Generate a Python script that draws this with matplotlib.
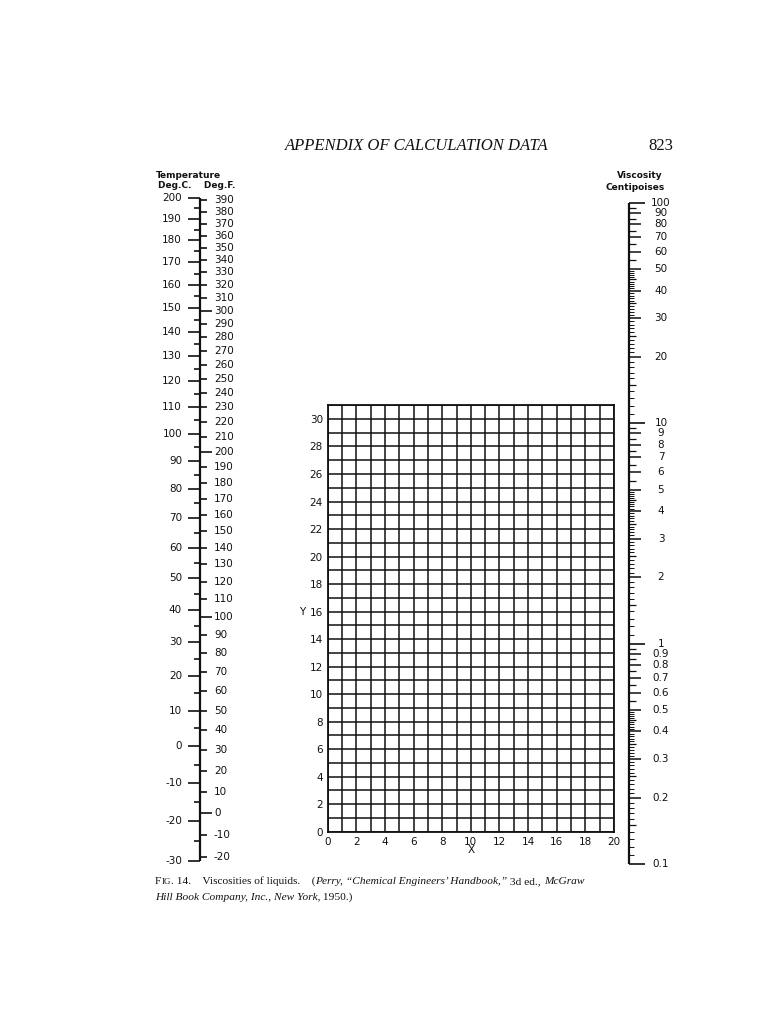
import numpy as np
import matplotlib
matplotlib.use("Agg")
import matplotlib.pyplot as plt

# ---------------- data ----------------
temp_c_major = list(range(-30, 201, 10))          # labelled Deg.C ticks
temp_c_minor = list(range(-25, 200, 10))          # half-step Deg.C ticks
temp_f_ticks = list(range(-20, 391, 10))          # labelled Deg.F ticks
temp_f_long = [0, 100, 200, 300]                  # longer Deg.F ticks
TEMP_OFFSET = 613.0                               # nomograph temperature scale constant

visc_labels = [100, 90, 80, 70, 60, 50, 40, 30, 20, 10, 9, 8, 7, 6, 5, 4, 3, 2,
               1, 0.9, 0.8, 0.7, 0.6, 0.5, 0.4, 0.3, 0.2, 0.1]
visc_label_text = ["100", "90", "80", "70", "60", "50", "40", "30", "20", "10",
                   "9", "8", "7", "6", "5", "4", "3", "2", "1", "0.9", "0.8",
                   "0.7", "0.6", "0.5", "0.4", "0.3", "0.2", "0.1"]
visc_decades = [0.1, 1, 10, 100]
visc_fine_mantissa = [round(1 + 0.1 * i, 1) for i in range(41)]      # 1.0 .. 5.0
visc_coarse_mantissa = [5.5, 6, 6.5, 7, 7.5, 8, 8.5, 9, 9.5]

grid_x = list(range(0, 21))
grid_y = list(range(0, 32))
x_labels = list(range(0, 21, 2))
y_labels = list(range(0, 31, 2))

header_title = "APPENDIX OF CALCULATION DATA"
page_number = "823"

# ---------------- figure ----------------
W, H = 768, 1024
fig = plt.figure(figsize=(7.68, 10.24), dpi=100)
fig.patch.set_facecolor("white")
SANS = "DejaVu Sans"
SERIF = "Liberation Serif"
INK = "#111111"
FS = 7.5


def px_axes(left, top, right, bottom):
    return fig.add_axes([left / W, 1 - bottom / H, (right - left) / W, (bottom - top) / H])


def f2c(f):
    return (np.asarray(f, dtype=float) - 32) / 1.8


# ---------- temperature scale ----------
ax_t = px_axes(140, 198, 260, 861)
ax_t.set_xlim(140, 260)
ax_t.set_yscale("function", functions=(lambda t: -1.0 / (np.asarray(t) + TEMP_OFFSET),
                                       lambda u: -1.0 / np.asarray(u) - TEMP_OFFSET))
ax_t.set_ylim(-30, 200)
ax_t.axis("off")
LX = 199.5
ax_t.vlines(LX, -30, 200, color=INK, lw=1.6, clip_on=False)
ax_t.hlines(temp_c_major, LX - 12, LX, color=INK, lw=1.2, clip_on=False)
ax_t.hlines(temp_c_minor, LX - 6, LX, color=INK, lw=1.2, clip_on=False)
f_short = [f for f in temp_f_ticks if f not in temp_f_long]
ax_t.hlines(f2c(f_short), LX, LX + 7, color=INK, lw=1.2, clip_on=False)
ax_t.hlines(f2c(temp_f_long), LX, LX + 12, color=INK, lw=1.2, clip_on=False)
for c in temp_c_major:
    ax_t.text(182, c, str(c), ha="right", va="center",
              fontsize=FS, family=SANS, color=INK, clip_on=False)
for f in temp_f_ticks:
    ax_t.text(214, float(f2c(f)), str(f), ha="left", va="center",
              fontsize=FS, family=SANS, color=INK, clip_on=False)

fig.text(156 / W, 1 - 175 / H, "Temperature", ha="left", va="center",
         fontsize=6.5, family=SANS, fontweight="bold", color=INK)
fig.text(158 / W, 1 - 185 / H, "Deg.C.    Deg.F.", ha="left", va="center",
         fontsize=6.5, family=SANS, fontweight="bold", color=INK)

# ---------- viscosity scale ----------
ax_v = px_axes(600, 203, 690, 864)
ax_v.set_xlim(600, 690)
ax_v.set_yscale("log")
ax_v.set_ylim(0.1, 100)
ax_v.axis("off")
VX = 629
ax_v.vlines(VX, 0.1, 100, color=INK, lw=1.6, clip_on=False)
ticks_int, ticks_half, ticks_fine = [], [], []
for d in visc_decades[:-1]:
    for m in visc_fine_mantissa + visc_coarse_mantissa:
        v = m * d
        if abs(m - 1) < 1e-9:
            continue
        if abs(m - round(m)) < 1e-9:
            ticks_int.append(v)
        elif abs(m * 2 - round(m * 2)) < 1e-9:
            ticks_half.append(v)
        else:
            ticks_fine.append(v)
ax_v.hlines(visc_decades, VX, VX + 16, color=INK, lw=1.2, clip_on=False)
ax_v.hlines(ticks_int, VX, VX + 12, color=INK, lw=1.1, clip_on=False)
ax_v.hlines(ticks_half, VX, VX + 7, color=INK, lw=0.9, clip_on=False)
ax_v.hlines(ticks_fine, VX, VX + 4.5, color=INK, lw=0.7, clip_on=False)
for v, s in zip(visc_labels, visc_label_text):
    ax_v.text(661, v, s, ha="center", va="center", fontsize=FS, family=SANS,
              color=INK, clip_on=False)

fig.text(640 / W, 1 - 175 / H, "Viscosity", ha="center", va="center",
         fontsize=6.5, family=SANS, fontweight="bold", color=INK)
fig.text(635 / W, 1 - 187 / H, "Centipoises", ha="center", va="center",
         fontsize=6.5, family=SANS, fontweight="bold", color=INK)

# ---------- X-Y grid ----------
ax_g = px_axes(327.7, 405.2, 614, 831.7)
ax_g.set_xlim(0, 20)
ax_g.set_ylim(0, 31)
ax_g.set_xticks(x_labels)
ax_g.set_yticks(y_labels)
ax_g.set_xticks(grid_x, minor=True)
ax_g.set_yticks(grid_y, minor=True)
ax_g.grid(which="both", color=INK, lw=1.1)
ax_g.set_axisbelow(False)
ax_g.tick_params(which="both", length=0, labelsize=FS, colors=INK)
ax_g.tick_params(axis="x", pad=3.5)
ax_g.tick_params(axis="y", pad=3.5)
for sp in ax_g.spines.values():
    sp.set_linewidth(1.3)
    sp.set_color(INK)
ax_g.set_xlabel("X", fontsize=FS, family=SANS, labelpad=-1, color=INK)
ax_g.text(-1.75, 16, "Y", ha="center", va="center", fontsize=FS, family=SANS,
          color=INK, clip_on=False)

# ---------- header ----------
fig.text(417 / W, 1 - 146 / H, header_title, ha="center", va="center",
         fontsize=12, family=SERIF, style="italic", color=INK)
fig.text(673 / W, 1 - 146 / H, page_number, ha="right", va="center",
         fontsize=12, family=SERIF, color=INK)

# ---------- caption with mixed styles ----------
renderer = fig.canvas.get_renderer()


def draw_runs(x_px, y_px, runs):
    x = x_px
    for txt, style, size in runs:
        t = fig.text(x / W, 1 - y_px / H, txt, ha="left", va="baseline",
                     fontsize=size, family=SERIF, style=style, color=INK)
        bb = t.get_window_extent(renderer=renderer)
        x += bb.width


CS = 8.2
draw_runs(155, 884, [
    ("F", "normal", CS), ("IG", "normal", CS * 0.78), (". 14.    Viscosities of liquids.    (", "normal", CS),
    ("Perry, \u201cChemical Engineers\u2019 Handbook,\u201d", "italic", CS),
    (" 3d ed., ", "normal", CS), ("McGraw", "italic", CS)])
draw_runs(155, 900, [
    ("Hill Book Company, Inc., New York,", "italic", CS), (" 1950.)", "normal", CS)])

fig.savefig("out.png", dpi=100, facecolor="white")
